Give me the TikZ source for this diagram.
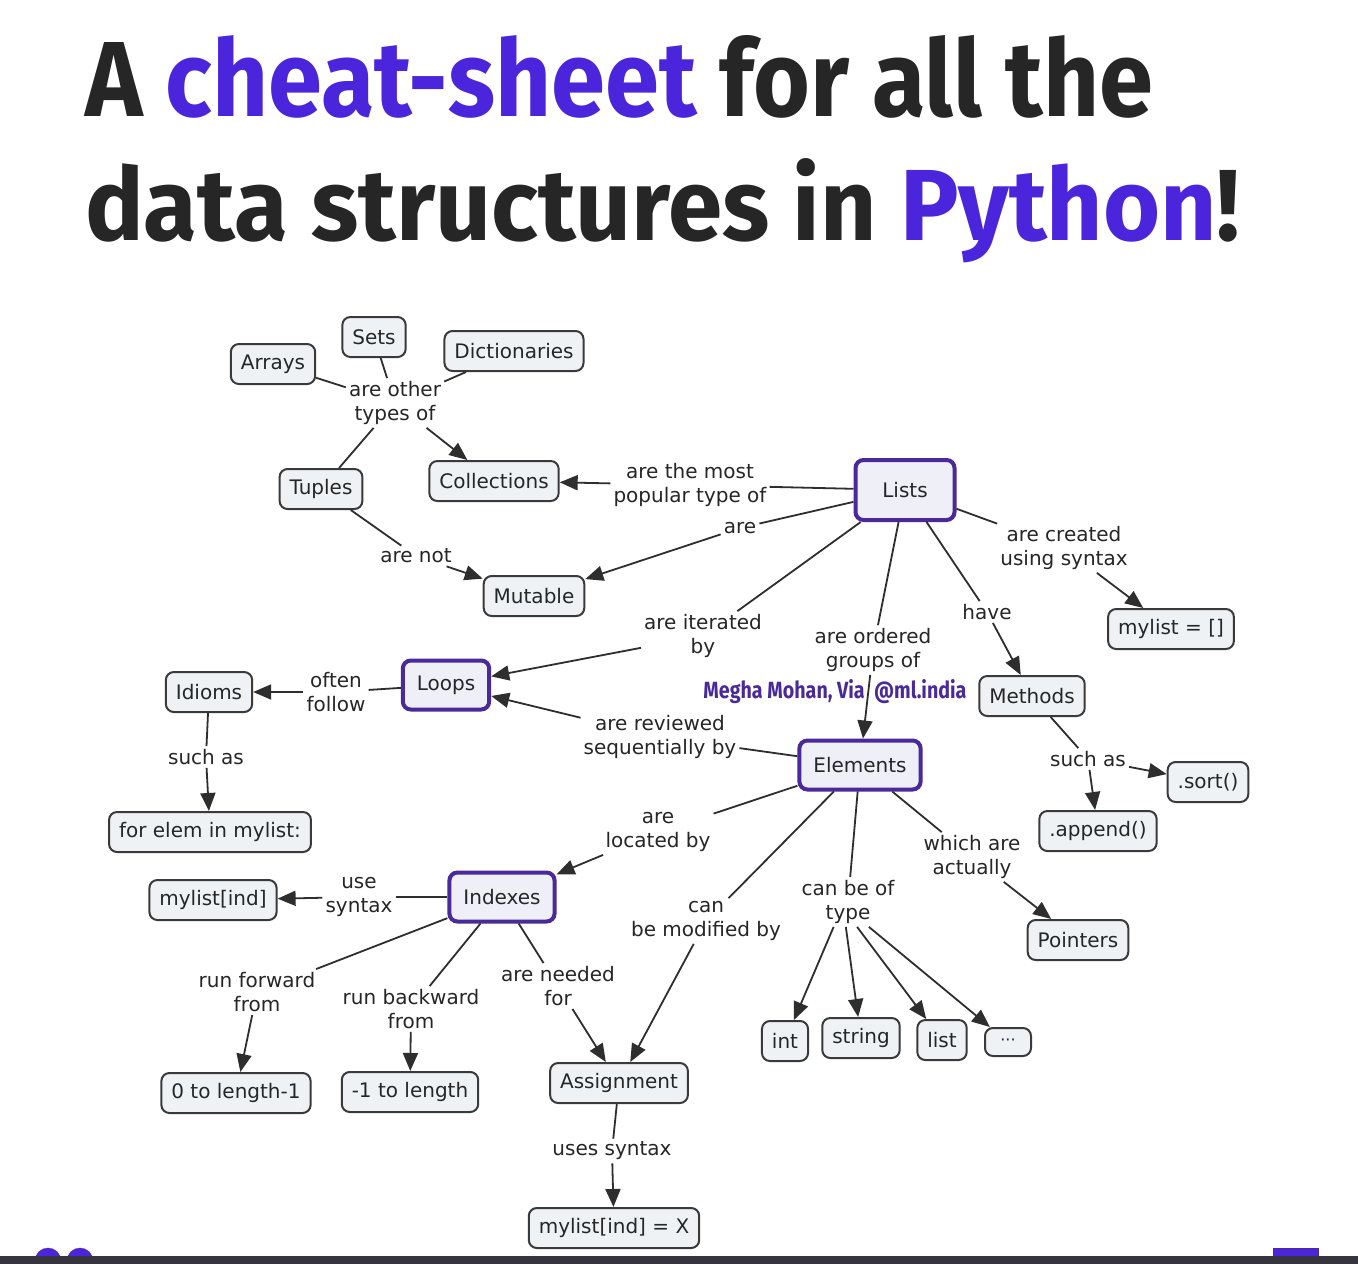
\documentclass[tikz,border=0pt]{standalone}
\usepackage{fontspec}
\setmainfont{DejaVu Sans}
\newfontfamily\headfont{Fira Sans}
\usetikzlibrary{arrows.meta,positioning}
\definecolor{Ink}{HTML}{262626}
\definecolor{Edge}{HTML}{3A3A3A}
\definecolor{Cell}{HTML}{EEF2F5}
\definecolor{CellKey}{HTML}{EEEFF7}
\definecolor{Violet}{HTML}{4B25DB}
\definecolor{VioletDeep}{HTML}{4A2A98}
\definecolor{Wire}{HTML}{2E2E2E}
\definecolor{Bar}{HTML}{36343F}
\tikzset{
  concept/.style={draw=Edge,line width=2pt,rounded corners=8pt,fill=Cell,text=Ink,font=\fontsize{20}{24}\selectfont,inner xsep=10pt,inner ysep=4pt,minimum height=40pt},
  keyconcept/.style={concept,draw=VioletDeep,line width=4pt,fill=CellKey,inner xsep=14pt,minimum height=49pt},
  phrase/.style={text=Ink,align=center,font=\fontsize{20}{24}\selectfont,inner sep=3pt},
  link/.style={draw=Wire,line width=1.8pt},
  linkto/.style={link,-{Triangle[length=18pt,width=15pt]}}
}
\begin{document}
\begin{tikzpicture}[x=1pt,y=-1pt]
\fill[white] (0,0) rectangle (1358,1264);
\useasboundingbox (0,0) rectangle (1358,1264);
\node[anchor=base west,inner sep=0,text=Ink] (head1) at (85,116) {\resizebox{1068pt}{81pt}{\headfont\bfseries A \textcolor{Violet}{cheat-sheet} for all the}};
\node[anchor=base west,inner sep=0,text=Ink] (head2) at (85,240) {\resizebox{1155pt}{82pt}{\headfont\bfseries data structures in \textcolor{Violet}{Python}!}};
\node[concept] (sets) at (374,337) {Sets};
\node[concept] (arrays) at (273,364) {Arrays};
\node[concept] (dicts) at (514,351) {Dictionaries};
\node[phrase] (othertypes) at (395,403) {are other\\types of};
\node[concept] (tuples) at (321,489) {Tuples};
\node[concept] (collections) at (494,481) {Collections};
\node[phrase] (popular) at (690,485) {are the most\\popular type of};
\node[keyconcept,minimum width=99pt,minimum height=60pt] (lists) at (905,490) {Lists};
\node[phrase] (are) at (740,528) {are};
\node[phrase] (arenot) at (416,556) {are not};
\node[concept] (mutable) at (534,596) {Mutable};
\node[phrase] (created) at (1064,548) {are created\\using syntax};
\node[phrase] (have) at (987,612) {have};
\node[concept] (empty) at (1171,629) {mylist = []};
\node[phrase] (iterated) at (703,636) {are iterated\\by};
\node[phrase] (ordered) at (873,650) {are ordered\\groups of};
\node[inner sep=0,text=VioletDeep] (credit) at (835,692) {\resizebox{263pt}{19pt}{\headfont\bfseries Megha Mohan, Via\ \ @ml.india}};
\node[concept] (idioms) at (209,692) {Idioms};
\node[phrase] (follow) at (336,692) {often\\follow};
\node[keyconcept] (loops) at (446,685) {Loops};
\node[concept] (methods) at (1032,696) {Methods};
\node[phrase] (reviewed) at (660,737) {are reviewed\\sequentially by};
\node[keyconcept] (elements) at (860,765) {Elements};
\node[phrase] (suchidiom) at (206,757) {such as};
\node[phrase] (suchmethod) at (1088,759) {such as};
\node[concept] (sort) at (1208,782) {.sort()};
\node[concept] (forloop) at (210,832) {for elem in mylist:};
\node[phrase] (located) at (658,832) {are\\located by};
\node[concept] (append) at (1098,831) {.append()};
\node[phrase] (actually) at (972,857) {which are\\actually};
\node[concept] (getitem) at (213,900) {mylist[ind]};
\node[phrase] (usesyntax) at (359,897) {use\\syntax};
\node[keyconcept] (indexes) at (502,897) {Indexes};
\node[phrase] (modified) at (706,921) {can\\be modified by};
\node[phrase] (oftype) at (848,902) {can be of\\type};
\node[concept] (pointers) at (1078,940) {Pointers};
\node[phrase] (forward) at (257,992) {run forward\\from};
\node[phrase] (backward) at (411,1009) {run backward\\from};
\node[phrase] (needed) at (558,986) {are needed\\for};
\node[concept] (tint) at (785,1041) {int};
\node[concept] (tstring) at (861,1038) {string};
\node[concept] (tlist) at (942,1040) {list};
\node[concept,minimum height=28pt,minimum width=46pt,inner xsep=6pt,font=\fontsize{16}{18}\selectfont] (tmore) at (1008,1042) {···};
\node[concept] (zerofwd) at (236,1093) {0 to length-1};
\node[concept] (negback) at (410,1092) {-1 to length};
\node[concept] (assign) at (619,1083) {Assignment};
\node[phrase] (usessyntax) at (612,1151) {uses syntax};
\node[concept] (setitem) at (614,1228) {mylist[ind] = X};
\draw[link] (sets) -- (othertypes);
\draw[link] (arrays) -- (othertypes);
\draw[link] (dicts) -- (othertypes);
\draw[link] (tuples) -- (othertypes);
\draw[linkto] (othertypes) -- (collections);
\draw[link] (lists) -- (popular);
\draw[linkto] (popular) -- (collections);
\draw[link] (lists) -- (are);
\draw[linkto] (are) -- (mutable);
\draw[link] (tuples) -- (arenot);
\draw[linkto] (arenot) -- (mutable);
\draw[link] (lists) -- (created);
\draw[linkto] (created) -- (empty);
\draw[link] (lists) -- (have);
\draw[linkto] (have) -- (methods);
\draw[link] (lists) -- (iterated);
\draw[linkto] (iterated) -- (loops);
\draw[link] (lists) -- (ordered);
\draw[linkto] (ordered) -- (elements);
\draw[link] (loops) -- (follow);
\draw[linkto] (follow) -- (idioms);
\draw[link] (elements) -- (reviewed);
\draw[linkto] (reviewed) -- (loops);
\draw[link] (idioms) -- (suchidiom);
\draw[linkto] (suchidiom) -- (forloop);
\draw[link] (methods) -- (suchmethod);
\draw[linkto] (suchmethod) -- (sort);
\draw[linkto] (suchmethod) -- (append);
\draw[link] (elements) -- (located);
\draw[linkto] (located) -- (indexes);
\draw[link] (elements) -- (modified);
\draw[linkto] (modified) -- (assign);
\draw[link] (elements) -- (oftype);
\foreach \t/\a in {tint/240,tstring/265,tlist/290,tmore/310}
  \draw[linkto] (oftype.\a) -- (\t);
\draw[link] (elements) -- (actually);
\draw[linkto] (actually) -- (pointers);
\draw[link] (indexes) -- (usesyntax);
\draw[linkto] (usesyntax) -- (getitem);
\draw[link] (indexes) -- (forward);
\draw[linkto] (forward) -- (zerofwd);
\draw[link] (indexes) -- (backward);
\draw[linkto] (backward) -- (negback);
\draw[link] (indexes) -- (needed);
\draw[linkto] (needed) -- (assign);
\draw[link] (assign) -- (usessyntax);
\draw[linkto] (usessyntax) -- (setitem);
\fill[Violet,draw=VioletDeep] (48,1261) circle (13) (80,1261) circle (13);
\fill[Violet,draw=VioletDeep] (1273,1248) rectangle (1318,1258);
\fill[Bar] (0,1256) rectangle (1358,1264);
\end{tikzpicture}
\end{document}
